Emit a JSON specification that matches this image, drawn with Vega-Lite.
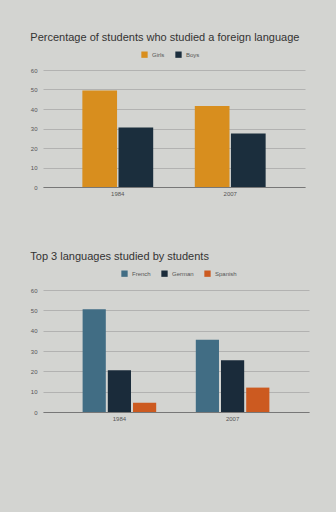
{
  "$schema": "https://vega.github.io/schema/vega-lite/v6.json",
  "background": "#d3d4d1",
  "padding": {"left": 30, "top": 32, "right": 27, "bottom": 92},
  "spacing": 55,
  "config": {
    "view": {"stroke": null},
    "font": "Liberation Sans",
    "title": {"anchor": "start", "frame": "bounds", "fontSize": 11, "fontWeight": "normal", "color": "#333333", "offset": 8},
    "axisY": {"domain": false, "ticks": false, "labelFontSize": 6, "labelColor": "#555555", "gridColor": "#a9aaa8", "gridWidth": 0.8, "labelPadding": 6, "title": null, "labelOverlap": false},
    "axisX": {"domainColor": "#777777", "ticks": false, "labelFontSize": 6, "labelColor": "#555555", "labelAngle": 0, "title": null, "grid": false, "labelPadding": 3},
    "legend": {"orient": "none", "direction": "horizontal", "title": null, "symbolType": "square", "symbolSize": 40, "labelFontSize": 6, "labelColor": "#555555", "symbolStrokeWidth": 0, "columnPadding": 10, "padding": 0}
  },
  "vconcat": [
    {
      "title": "Percentage of students who studied a foreign language",
      "width": 262,
      "height": 117,
      "data": {"values": [
        {"year": "1984", "group": "Girls", "value": 49.5},
        {"year": "1984", "group": "Boys", "value": 30.5},
        {"year": "2007", "group": "Girls", "value": 41.5},
        {"year": "2007", "group": "Boys", "value": 27.5}
      ]},
      "mark": {"type": "bar"},
      "encoding": {
        "x": {"field": "year", "type": "nominal", "scale": {"paddingInner": 0.37, "paddingOuter": 0.35}},
        "xOffset": {"field": "group", "type": "nominal", "scale": {"domain": ["Girls", "Boys"], "paddingInner": 0.04}},
        "y": {"field": "value", "type": "quantitative", "scale": {"domain": [0, 60]}, "axis": {"values": [0, 10, 20, 30, 40, 50, 60]}},
        "color": {"field": "group", "type": "nominal", "scale": {"domain": ["Girls", "Boys"], "range": ["#d88e1e", "#1b2e3d"]}, "legend": {"legendX": 98, "legendY": -19}}
      }
    },
    {
      "title": "Top 3 languages studied by students",
      "width": 266,
      "height": 122,
      "data": {"values": [
        {"year": "1984", "lang": "French", "value": 50.5},
        {"year": "1984", "lang": "German", "value": 20.5},
        {"year": "1984", "lang": "Spanish", "value": 4.5},
        {"year": "2007", "lang": "French", "value": 35.5},
        {"year": "2007", "lang": "German", "value": 25.5},
        {"year": "2007", "lang": "Spanish", "value": 12}
      ]},
      "mark": {"type": "bar"},
      "encoding": {
        "x": {"field": "year", "type": "nominal", "scale": {"paddingInner": 0.35, "paddingOuter": 0.35}},
        "xOffset": {"field": "lang", "type": "nominal", "scale": {"domain": ["French", "German", "Spanish"], "paddingInner": 0.08}},
        "y": {"field": "value", "type": "quantitative", "scale": {"domain": [0, 60]}, "axis": {"values": [0, 10, 20, 30, 40, 50, 60]}},
        "color": {"field": "lang", "type": "nominal", "scale": {"domain": ["French", "German", "Spanish"], "range": ["#416d84", "#1a2b3a", "#cc5a20"]}, "legend": {"legendX": 78, "legendY": -20}}
      }
    }
  ],
  "resolve": {"scale": {"color": "independent", "xOffset": "independent", "x": "independent", "y": "independent"}, "axis": {"x": "independent", "y": "independent"}, "legend": {"color": "independent"}}
}
